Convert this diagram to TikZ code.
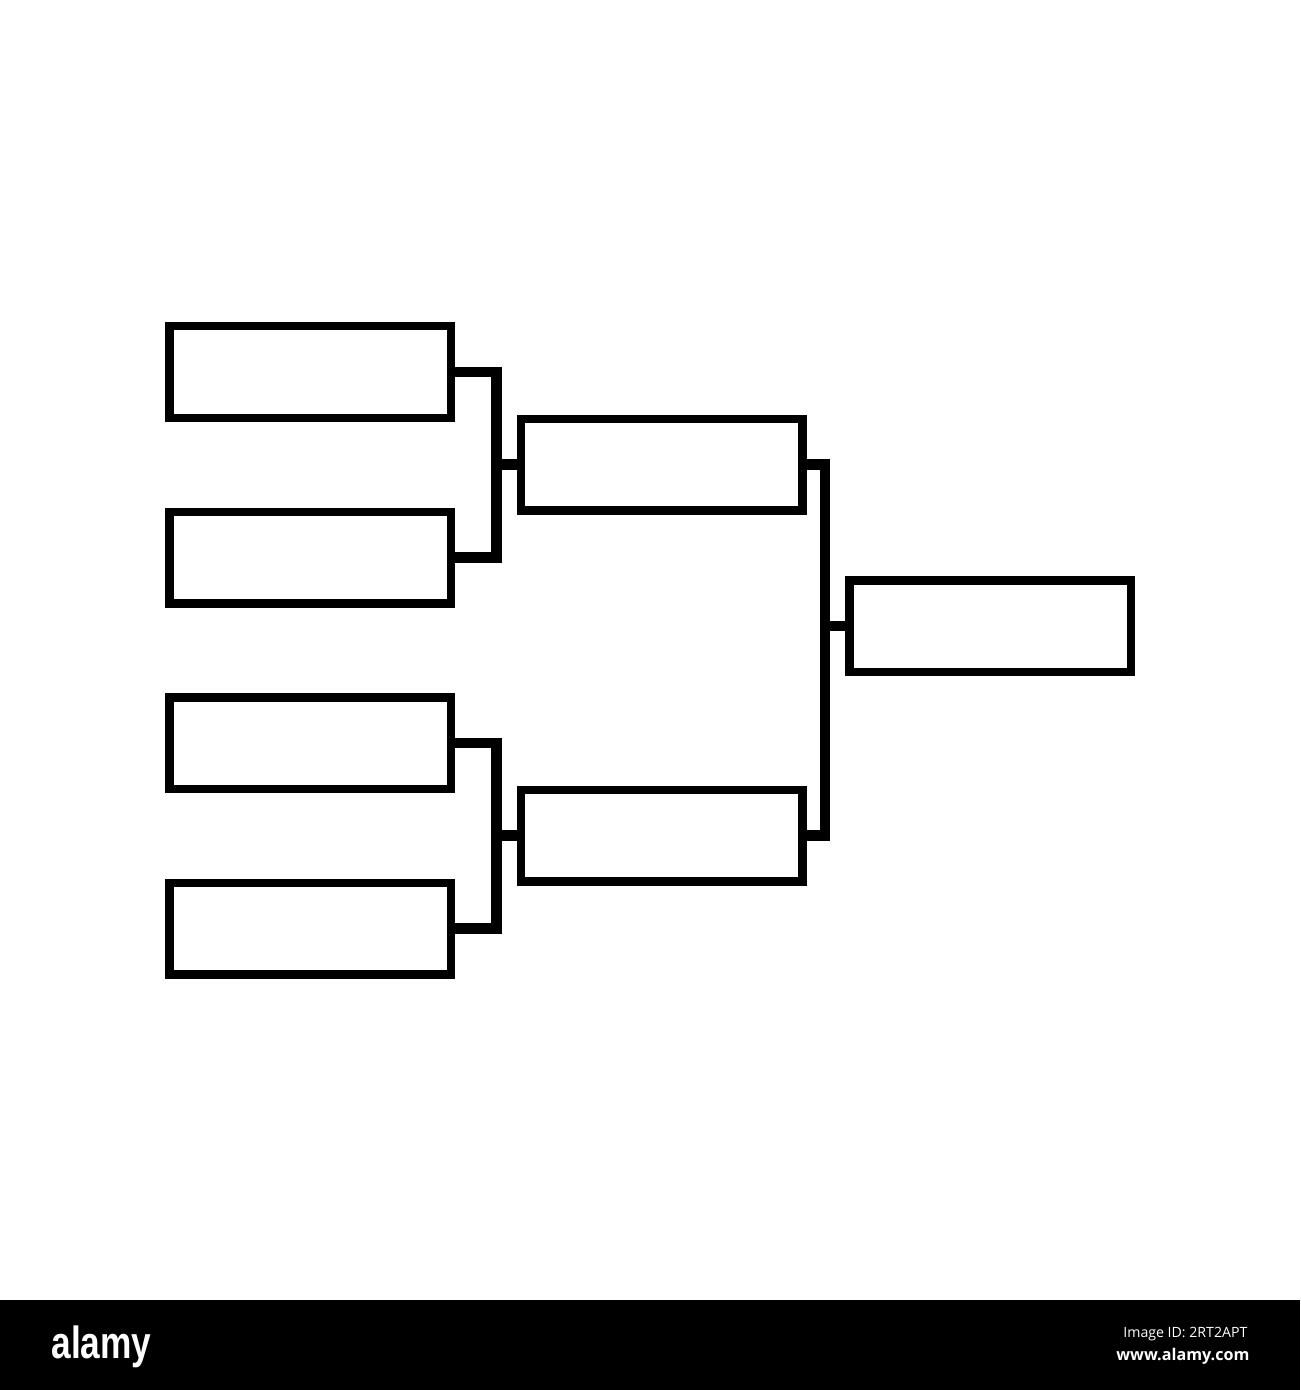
\documentclass[tikz,border=0pt]{standalone}
\usepackage{fontspec}
\setmainfont{Open Sans}
\newfontfamily\logofont{Liberation Sans}
\begin{document}
\begin{tikzpicture}[x=0.5pt,y=-0.5pt,
  slot/.style={draw=black,line width=4.25pt,fill=white,rectangle,inner sep=0pt,
    minimum width=140.75pt,minimum height=45.75pt},
  conn/.style={draw=black,line width=5.3pt,line join=miter,line cap=rect},
  wm/.style={text=white,inner sep=0pt}]
\useasboundingbox (0,0) rectangle (1300,1390);
\fill[white] (0,0) rectangle (1300,1390);
% round 1
\node[slot] (b1) at (310,372) {};
\node[slot] (b2) at (310,557.5) {};
\node[slot] (b3) at (310,743) {};
\node[slot] (b4) at (310,928.5) {};
% round 2
\node[slot] (m1) at (661.5,464.5) {};
\node[slot] (m2) at (661.5,835.5) {};
% final
\node[slot] (f) at (990,626) {};
% junctions
\coordinate (j1) at (496.5,464.5);
\coordinate (j2) at (496.5,835.5);
\coordinate (j3) at (825,626);
\draw[conn] (b1.east) -| (j1) |- (b2.east);
\draw[conn] (j1) -- (m1.west);
\draw[conn] (b3.east) -| (j2) |- (b4.east);
\draw[conn] (j2) -- (m2.west);
\draw[conn] (m1.east) -| (j3) |- (m2.east);
\draw[conn] (j3) -- (f.west);
% redraw box borders on top so the connector ends sit under them
\node[slot,fill=none] at (b1) {};
\node[slot,fill=none] at (b2) {};
\node[slot,fill=none] at (b3) {};
\node[slot,fill=none] at (b4) {};
\node[slot,fill=none] at (m1) {};
\node[slot,fill=none] at (m2) {};
\node[slot,fill=none] at (f) {};
% watermark bar
\fill[black] (0,1300) rectangle (1300,1390);
\node[wm,anchor=base west] (logo) at (51,1358) {\resizebox*{50pt}{21pt}{\logofont\bfseries alamy}};
\node[wm,anchor=base west] (imgid) at (1123,1337) {\resizebox{62pt}{!}{Image ID: 2RT2APT}};
\node[wm,anchor=base west] (www) at (1116,1360) {\resizebox{66.5pt}{!}{\bfseries www.alamy.com}};
\end{tikzpicture}
\end{document}
